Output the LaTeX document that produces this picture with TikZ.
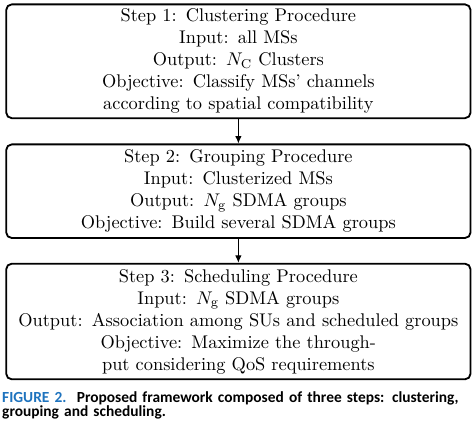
\documentclass[tikz,border=0pt]{standalone}
\usepackage{amsmath}
\usepackage{fontspec}
\newfontfamily\captionfont{Carlito}
\usetikzlibrary{arrows.meta, positioning}
\definecolor{capblue}{RGB}{30,115,190}
\tikzset{
  stepbox/.style={rectangle, rounded corners=3pt, draw=black, line width=1pt,
                  minimum width=253pt, text width=250pt, align=center,
                  inner sep=0pt, font=\normalsize},
  arrow/.style={-{Latex[length=4pt, width=3.5pt]}, line width=0.6pt},
}

\begin{document}
\begin{tikzpicture}
  \useasboundingbox (0,0) rectangle (258.3pt,-231.6pt);

  % Step boxes
  \node[stepbox, minimum height=62pt, anchor=north west] (clustering)
    at (2.9pt,-1.9pt)
    {Step 1: Clustering Procedure\\
     Input: all MSs\\
     Output: $N_{\mathrm{C}}$ Clusters\\
     Objective: Classify MSs' channels\\
     according to spatial compatibility};
  \node[stepbox, minimum height=51pt, below=13.3pt of clustering] (grouping)
    {Step 2: Grouping Procedure\\
     Input: Clusterized MSs\\
     Output: $N_{\mathrm{g}}$ SDMA groups\\
     Objective: Build several SDMA groups};
  \node[stepbox, minimum height=63pt, below=13pt of grouping] (scheduling)
    {Step 3: Scheduling Procedure\\
     Input: $N_{\mathrm{g}}$ SDMA groups\\
     Output: Association among SUs and scheduled groups\\
     Objective: Maximize the through-\\
     put considering QoS requirements};

  % Arrows
  \draw[arrow] (clustering) -- (grouping);
  \draw[arrow] (grouping) -- (scheduling);

  % Caption
  \node[anchor=north west, inner sep=0pt, text width=258pt, align=left,
        font=\captionfont\bfseries\fontsize{8.4pt}{7.9pt}\selectfont]
    (caption) at (1pt,-213pt)
    {\textcolor{capblue}{FIGURE 2.}\ \ Proposed framework composed of three steps: clustering,\\
     grouping and scheduling.};
\end{tikzpicture}
\end{document}
